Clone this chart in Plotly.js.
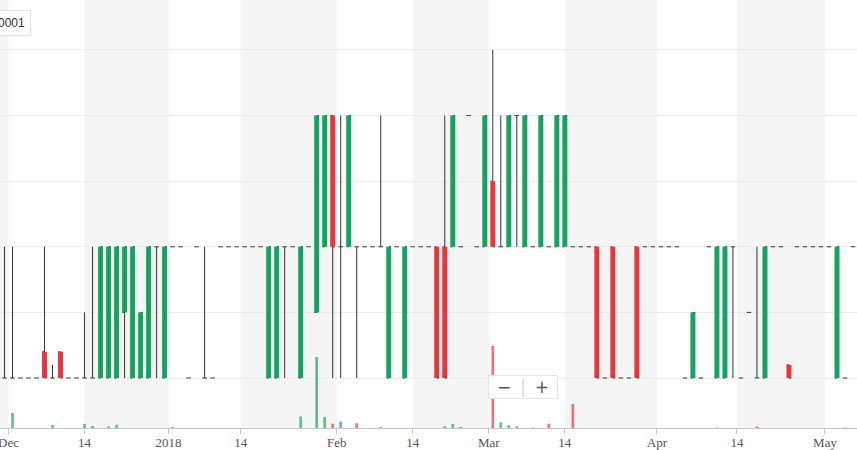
<!DOCTYPE html>
<html>
<head>
<meta charset="utf-8">
<script src="https://cdn.plot.ly/plotly-3.0.1.min.js"></script>
<style>html,body{margin:0;padding:0;background:#fff;}#chart{width:857px;height:450px;}</style>
</head>
<body>
<div id="chart"></div>
<script>
// Trading days (one candle each)
const dates = [
 '2017-11-30','2017-12-01','2017-12-04','2017-12-05','2017-12-06','2017-12-07','2017-12-08','2017-12-11','2017-12-12','2017-12-13','2017-12-14','2017-12-15','2017-12-18','2017-12-19','2017-12-20','2017-12-21','2017-12-22','2017-12-26','2017-12-27','2017-12-28','2017-12-29',
 '2018-01-02','2018-01-03','2018-01-04','2018-01-05','2018-01-08','2018-01-09','2018-01-10','2018-01-11','2018-01-12','2018-01-16','2018-01-17','2018-01-18','2018-01-19','2018-01-22','2018-01-23','2018-01-24','2018-01-25','2018-01-26','2018-01-29','2018-01-30','2018-01-31',
 '2018-02-01','2018-02-02','2018-02-05','2018-02-06','2018-02-07','2018-02-08','2018-02-09','2018-02-12','2018-02-13','2018-02-14','2018-02-15','2018-02-16','2018-02-20','2018-02-21','2018-02-22','2018-02-23','2018-02-26','2018-02-27','2018-02-28',
 '2018-03-01','2018-03-02','2018-03-05','2018-03-06','2018-03-07','2018-03-08','2018-03-09','2018-03-12','2018-03-13','2018-03-14','2018-03-15','2018-03-16','2018-03-19','2018-03-20','2018-03-21','2018-03-22','2018-03-23','2018-03-26','2018-03-27','2018-03-28','2018-03-29',
 '2018-04-02','2018-04-03','2018-04-04','2018-04-05','2018-04-06','2018-04-09','2018-04-10','2018-04-11','2018-04-12','2018-04-13','2018-04-16','2018-04-17','2018-04-18','2018-04-19','2018-04-20','2018-04-23','2018-04-24','2018-04-25','2018-04-26','2018-04-27','2018-04-30',
 '2018-05-01','2018-05-02','2018-05-03','2018-05-04'
];

// Prices in units of 0.0001
const open = [
 1,1,1,1,1,1.2,1,1.2,1,1,1,1,1,1,1,1.5,1,1,1,2,1,
 2,2,1,2,1,1,2,2,2,2,2,2,1,1,2,2,1,2,1.5,2,3,
 2,2,2,2,2,2,1,2,1,2,2,2,2,2,2,2,3,2,2,
 2.5,2,2,3,2,2,2,2,2,2,2,2,2,2,1,2,1,1,2,2,2,
 2,2,2,1,1,1,2,1,1,2,1,1.5,1,1,2,2,1.1,2,2,2,2,
 2,1,1,2
];
const high = [
 2,2,1,1,1,2,1.1,1.2,1,1,1.5,2,2,2,2,2,2,1.5,2,2,2,
 2,2,1,2,2,1,2,2,2,2,2,2,2,2,2,2,2,2,3,3,3,
 3,3,2,2,2,3,2,2,2,2,2,2,2,3,3,2,3,2,3,
 3.5,3,3,3,3,2,3,2,3,3,2,2,2,2,1,2,1,1,2,2,2,
 2,2,2,1,1.5,1,2,2,2,2,1,1.5,2,2,2,2,1.1,2,2,2,2,
 2,2,1,2
];
const low = [
 1,1,1,1,1,1,1,1,1,1,1,1,1,1,1,1,1,1,1,1,1,
 2,2,1,2,1,1,2,2,2,2,2,2,1,1,1,2,1,2,1.5,2,1,
 1,2,1,2,2,2,1,2,1,2,2,2,1,1,2,2,3,2,2,
 2,2,2,2,2,2,2,2,2,2,2,2,2,1,1,1,1,1,1,2,2,
 2,2,2,1,1,1,2,1,1,1,1,1.5,1,1,2,2,1,2,2,2,2,
 2,1,1,2
];
const close = [
 1,1,1,1,1,1,1,1,1,1,1,1,2,2,2,2,2,1.5,2,2,2,
 2,2,1,2,1,1,2,2,2,2,2,2,2,2,2,2,2,2,3,3,2,
 2,3,2,2,2,2,2,2,2,2,2,2,1,1,3,2,3,2,3,
 2,2,3,3,3,2,3,2,3,3,2,2,2,1,1,1,1,1,1,2,2,
 2,2,2,1,1.5,1,2,2,2,2,1,1.5,1,2,2,2,1,2,2,2,2,
 2,2,1,2
];
const volume = [
 0,150,0,0,0,0,30,0,0,0,40,20,0,15,33,0,0,0,0,0,0,
 10,0,0,0,0,0,0,0,0,0,0,0,0,0,0,0,115,0,710,110,43,
 63,0,47,0,0,10,0,0,0,0,0,0,0,17,40,10,0,0,0,
 820,57,27,17,0,5,0,43,0,0,240,0,0,0,0,0,0,0,0,0,0,
 0,0,0,0,0,0,0,5,0,0,0,0,15,0,0,0,0,0,0,0,0,
 0,0,5,0
];

// Axis labels (placed on the session that opens each half-month)
const tickVals = ['2017-12-01','2017-12-14 12:00','2018-01-02','2018-01-16','2018-02-01','2018-02-14 12:00','2018-03-01','2018-03-14 12:00','2018-04-02','2018-04-16','2018-05-01'];
const tickText = ['Dec','14','2018','14','Feb','14','Mar','14','Apr','14','May'];
const bandStarts = ['2017-11-14','2017-12-14 12:00','2018-01-16','2018-02-14 12:00','2018-03-14 12:00','2018-04-16'];
const bandEnds   = ['2017-12-01','2018-01-02','2018-02-01','2018-03-01','2018-04-02','2018-05-01'];
const holidays = ['2017-12-25','2018-01-01','2018-01-15','2018-02-19','2018-03-30'];

const UNIT = 0.0001;
const GREEN = '#16a35f', RED = '#e8373c';
const VGREEN = 'rgba(22,163,95,0.68)', VRED = 'rgba(232,55,60,0.68)';

const x = dates.map(d => d + ' 12:00');
const o = open.map(v => v * UNIT), h = high.map(v => v * UNIT), l = low.map(v => v * UNIT), c = close.map(v => v * UNIT);
const volColors = close.map((v, i) => (i > 0 && v < close[i - 1]) ? VRED : VGREEN);

// candle bodies as open→close segments
function bodies(up) {
  const bx = [], by = [];
  x.forEach((d, i) => {
    if (up ? c[i] > o[i] : c[i] < o[i]) { bx.push(d, d, null); by.push(o[i], c[i], null); }
  });
  return {bx, by};
}
const upB = bodies(true), dnB = bodies(false);

const traces = [
  {type: 'bar', x: x, y: volume, yaxis: 'y2', marker: {color: volColors, line: {width: 0}}, hoverinfo: 'skip', showlegend: false},
  {type: 'ohlc', x: x, open: o, high: h, low: l, close: c, tickwidth: 0.28,
   increasing: {line: {color: '#333', width: 1}}, decreasing: {line: {color: '#333', width: 1}},
   hoverinfo: 'skip', showlegend: false},
  {type: 'scatter', mode: 'lines', x: upB.bx, y: upB.by, connectgaps: false,
   line: {color: GREEN, width: 5}, hoverinfo: 'skip', showlegend: false},
  {type: 'scatter', mode: 'lines', x: dnB.bx, y: dnB.by, connectgaps: false,
   line: {color: RED, width: 5}, hoverinfo: 'skip', showlegend: false}
];

const shapes = bandStarts.map((s, i) => ({
  type: 'rect', xref: 'x', yref: 'paper', x0: s, x1: bandEnds[i], y0: 0, y1: 1,
  fillcolor: '#f5f5f5', line: {width: 0}, layer: 'below'
}));

const layout = {
  width: 857, height: 450,
  margin: {l: 0, r: 0, t: 0, b: 22, pad: 0},
  paper_bgcolor: '#fff', plot_bgcolor: '#fff',
  showlegend: false,
  bargap: 0.66,
  xaxis: {
    type: 'date',
    range: ['2017-11-29 22:30', '2018-05-04 23:59'],
    rangebreaks: [{bounds: ['sat', 'mon']}, {values: holidays}],
    rangeslider: {visible: false},
    tickmode: 'array', tickvals: tickVals, ticktext: tickText,
    ticks: 'outside', ticklen: 5, tickcolor: '#c8c8c8',
    ticklabeloverflow: 'allow', ticklabelstandoff: -3,
    showline: true, linecolor: '#c8c8c8', linewidth: 1,
    showgrid: false, zeroline: false,
    tickfont: {family: 'Liberation Serif, Times New Roman, serif', size: 13, color: '#555'},
    automargin: false, fixedrange: true
  },
  yaxis: {
    range: [0.619 * UNIT, 3.881 * UNIT],
    tickmode: 'linear', tick0: 0, dtick: 0.5 * UNIT,
    showgrid: true, gridcolor: '#ececec', gridwidth: 1,
    showticklabels: false, zeroline: false, showline: false, ticks: '',
    automargin: false, fixedrange: true
  },
  yaxis2: {
    overlaying: 'y', side: 'right', range: [0, 4280],
    showgrid: false, showticklabels: false, zeroline: false, showline: false, ticks: '',
    automargin: false, fixedrange: true
  },
  shapes: shapes,
  annotations: [
    {xref: 'paper', yref: 'paper', x: 31 / 857, y: (428 - 22.5) / 428, xanchor: 'right', yanchor: 'middle',
     text: '0.0001', showarrow: false, bgcolor: '#fff', bordercolor: '#e4e4e4', borderwidth: 1, borderpad: 5,
     font: {family: 'Liberation Sans, Arial, sans-serif', size: 12, color: '#333'}},
    {xref: 'paper', yref: 'paper', x: 523 / 857, y: (428 - 387) / 428, xanchor: 'center', yanchor: 'middle',
     text: '\u2212\u00a0\u2009<span style="color:#d6d6d6">|</span>\u00a0\u2009+', showarrow: false,
     width: 68, height: 22, bgcolor: '#fff', bordercolor: '#e6e6e6', borderwidth: 1, borderpad: 0,
     font: {family: 'DejaVu Sans, sans-serif', size: 17, color: '#555'}}
  ]
};

Plotly.newPlot('chart', traces, layout, {displayModeBar: false, staticPlot: true});
</script>
</body>
</html>
